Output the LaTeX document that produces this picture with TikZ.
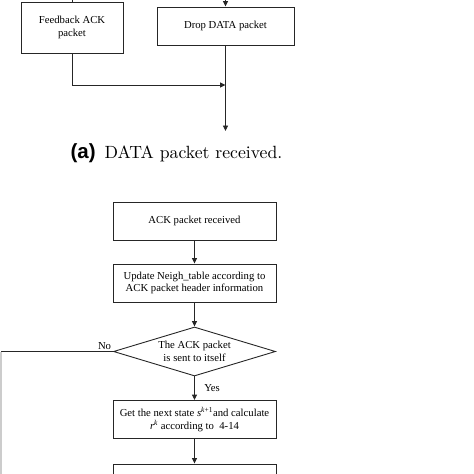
\documentclass[tikz,border=0pt]{standalone}
\usepackage{fontspec}
\newfontfamily\boxfont{Liberation Serif}
\newfontfamily\capfont{Liberation Sans}
\newfontfamily\capserif{lmroman10-regular}[Extension=.otf]
\usetikzlibrary{shapes.geometric,arrows.meta}

\newcommand{\colx}{194.5}
\newcommand{\boxw}{163}
\newcommand{\boxh}{38}

\begin{document}
\begin{tikzpicture}[x=1pt,y=-1pt,
  flowbox/.style={draw=black!85,line width=0.9pt,minimum height=\boxh,inner sep=0pt,align=center,font=\boxfont\fontsize{10.7}{12.5}\selectfont},
  decision/.style={diamond,draw=black!85,line width=0.9pt,aspect=3.3,inner sep=0pt,minimum width=162,minimum height=49,align=center,font=\boxfont\fontsize{10.7}{12.5}\selectfont},
  lbl/.style={font=\boxfont\fontsize{10.7}{12.5}\selectfont},
  flow/.style={line width=0.9pt,draw=black!85,-{Triangle[length=5.5pt,width=5pt]}},
  plain/.style={line width=0.9pt,draw=black!85}]
\useasboundingbox (0,0) rectangle (474,474);
\clip (0,0) rectangle (474,474);

% (a) DATA packet received
\node[flowbox,minimum width=102,minimum height=51] (fb) at (72,27.5) {Feedback ACK\\packet};
\node[flowbox,minimum width=137] (drop) at (225.5,26) {Drop DATA packet};
\coordinate (fbin) at (72,0);
\coordinate (dropin) at (225.5,0);
\coordinate (merge) at (225.5,85);
\coordinate (dataout) at (225.5,131);
\draw[plain] (fbin) -- (fb);
\draw[flow] (dropin) -- (drop);
\draw[flow] (fb) |- (merge);
\draw[flow] (drop) -- (dataout);
\node[anchor=base,font=\capserif\fontsize{17.7}{20}\selectfont] (capa) at (176.5,158) {{\capfont\bfseries\fontsize{20.5}{20}\selectfont (a)}\hspace{3pt} DATA packet received.};

% ACK packet received
\node[flowbox,minimum width=\boxw] (ack) at (\colx,221) {ACK packet received};
\node[flowbox,minimum width=\boxw] (upd) at (\colx,283) {Update Neigh\_table according to\\ACK packet header information};
\node[decision] (self) at (\colx,351.5) {The ACK packet\\is sent to itself};
\node[flowbox,minimum width=\boxw] (nxt) at (\colx,419.5) {Get the next state \textit{s}\textsuperscript{\textit{k}+1}and calculate\\\textit{r}\textsuperscript{\textit{k}} according to\ \ 4-14};
\node[flowbox,minimum width=\boxw] (last) at (\colx,483) {};
\coordinate (nocorner) at (0.75,351.5);
\coordinate (nodown) at (0.75,474);
\draw[flow] (ack) -- (upd);
\draw[flow] (upd) -- (self);
\draw[flow] (self) -- node[lbl,right,xshift=6pt]{Yes} (nxt);
\draw[flow] (nxt) -- (last);
\draw[plain] (self.west) -- node[lbl,pos=0,above left,inner sep=1.5pt]{No} (nocorner);
\draw[plain,draw=black!20,line width=1.5pt] (nocorner) -- (nodown);
\end{tikzpicture}
\end{document}
